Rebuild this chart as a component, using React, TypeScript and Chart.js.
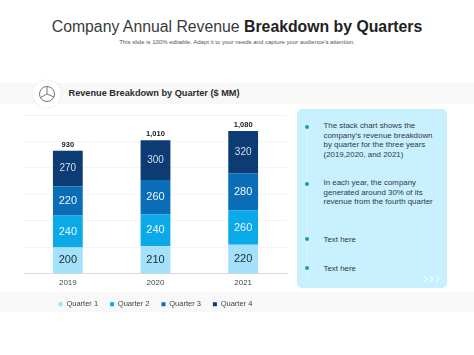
import React, { useEffect, useRef } from "react";
import { Chart, registerables } from "chart.js";

Chart.register(...registerables);

const years = ["2019", "2020", "2021"];
const quarter1 = [200, 210, 220];
const quarter2 = [240, 240, 260];
const quarter3 = [220, 260, 280];
const quarter4 = [270, 300, 320];
const totals = ["930", "1,010", "1,080"];
const seriesNames = ["Quarter 1", "Quarter 2", "Quarter 3", "Quarter 4"];
const seriesColors = ["#A3E1FA", "#0BA9E8", "#0B6DB8", "#0D3B73"];
const labelColors = ["#1f2a33", "#eaf7ff", "#eaf7ff", "#d5dfea"];
const bullets: string[][] = [
  ["The stack chart shows the", "company's revenue breakdown", "by quarter for the three years", "(2019,2020, and 2021)"],
  ["In each year, the company", "generated around 30% of its", "revenue from the fourth quarter"],
  ["Text here"],
  ["Text here"],
];
const bulletTops = [121, 178, 235, 264];
const dotTops = [125, 181.5, 236.5, 266];

const FONT = "'Liberation Sans', Arial, sans-serif";

const valueLabels = {
  id: "valueLabels",
  afterDatasetsDraw(chart: any) {
    const { ctx } = chart;
    ctx.save();
    ctx.textAlign = "center";
    ctx.textBaseline = "middle";
    chart.data.datasets.forEach((ds: any, i: number) => {
      chart.getDatasetMeta(i).data.forEach((bar: any, j: number) => {
        ctx.font = `${i === 3 ? 10 : 11}px ${FONT}`;
        ctx.fillStyle = labelColors[i];
        ctx.fillText(String(ds.data[j]), bar.x, (bar.y + bar.base) / 2);
      });
    });
    const top = chart.getDatasetMeta(3).data;
    ctx.font = `bold 7.5px ${FONT}`;
    ctx.fillStyle = "#222";
    top.forEach((bar: any, j: number) => ctx.fillText(totals[j], bar.x, bar.y - 6));
    ctx.restore();
  },
};

export default function App() {
  const ref = useRef<HTMLCanvasElement>(null);
  useEffect(() => {
    document.body.style.margin = "0";
    const chart = new Chart(ref.current!, {
      type: "bar",
      data: {
        labels: years,
        datasets: [quarter1, quarter2, quarter3, quarter4].map((data, i) => ({
          label: seriesNames[i],
          data,
          backgroundColor: seriesColors[i],
          barPercentage: 0.34,
          categoryPercentage: 1,
        })),
      },
      options: {
        responsive: false,
        animation: false,
        layout: { padding: { left: 24, right: 187, top: 115, bottom: 37 } },
        scales: {
          x: {
            stacked: true,
            afterFit: (s: any) => { s.height = 14.6; },
            grid: { display: false, drawTicks: false },
            border: { color: "#d9d9d9" },
            ticks: { color: "#444", font: { family: FONT, size: 8 }, padding: 4 },
          },
          y: {
            stacked: true,
            min: 0,
            max: 1200,
            afterFit: (s: any) => { s.width = 0; },
            ticks: { display: false, stepSize: 200 },
            border: { display: false },
            grid: { color: "#f5f5f5", drawTicks: false },
          },
        },
        plugins: {
          tooltip: { enabled: false },
          legend: {
            position: "bottom",
            labels: {
              usePointStyle: true,
              pointStyle: "rect",
              boxWidth: 4,
              boxHeight: 4,
              padding: 12,
              color: "#444",
              font: { family: FONT, size: 7.5 },
            },
          },
        },
      },
      plugins: [valueLabels],
    } as any);
    return () => chart.destroy();
  }, []);

  const abs = (s: React.CSSProperties): React.CSSProperties => ({ position: "absolute", ...s });

  return (
    <div style={{ position: "fixed", left: 0, top: 0, width: 474, height: 355, background: "#fff", overflow: "hidden", fontFamily: FONT }}>
      <div style={abs({ left: 0, right: 0, top: 16, textAlign: "center", fontSize: 15.8, color: "#3a3a3a", whiteSpace: "nowrap", lineHeight: "22px" })}>
        Company Annual Revenue <b style={{ color: "#222" }}>Breakdown by Quarters</b>
      </div>
      <div style={abs({ left: 0, right: 0, top: 38, textAlign: "center", fontSize: 6, color: "#555", lineHeight: "8px" })}>
        This slide is 100% editable. Adapt it to your needs and capture your audience's attention.
      </div>

      <div style={abs({ left: 0, right: 0, top: 83, height: 21, background: "#f8f8f8" })} />
      <div style={abs({ left: 0, right: 0, top: 292, height: 20, background: "#f8f8f8" })} />

      <div style={abs({ left: 33, top: 80, width: 28, height: 28, borderRadius: 14, background: "#fff", boxShadow: "0 0 1px #ccc" })}>
        <svg width="28" height="28" viewBox="0 0 28 28">
          <circle cx="14" cy="14" r="7.5" fill="none" stroke="#777" strokeWidth="1" />
          <path d="M14 6.5V14L7.5 17.5M14 14L21 17" fill="none" stroke="#777" strokeWidth="1" />
        </svg>
      </div>
      <div style={abs({ left: 68.5, top: 87, fontSize: 9.2, fontWeight: "bold", color: "#2b2b2b", lineHeight: "12px", whiteSpace: "nowrap" })}>
        Revenue Breakdown by Quarter ($ MM)
      </div>

      <div style={abs({ left: 297, top: 109, width: 150, height: 179, borderRadius: 5, background: "#C9F0FF" })} />
      <div style={abs({ left: 307, top: 125, width: 1, height: 150, background: "#dff6ff" })} />
      {bullets.map((lines, i) => (
        <React.Fragment key={i}>
          <div style={abs({ left: 305, top: dotTops[i], width: 4, height: 4, borderRadius: 2, background: "#2a93ad" })} />
          <div style={abs({ left: 323.5, top: bulletTops[i], fontSize: 7.9, lineHeight: "9.6px", color: "#2c3a44", whiteSpace: "nowrap" })}>
            {lines.map((l, k) => <div key={k}>{l}</div>)}
          </div>
        </React.Fragment>
      ))}
      <svg style={abs({ left: 423, top: 275 })} width="18" height="8" viewBox="0 0 18 8">
        <path d="M1 1l3 3-3 3M7 1l3 3-3 3M13 1l3 3-3 3" fill="none" stroke="#e8f9ff" strokeWidth="1.6" />
      </svg>

      <canvas ref={ref} width={474} height={355} style={abs({ left: 0, top: 0 })} />
    </div>
  );
}
